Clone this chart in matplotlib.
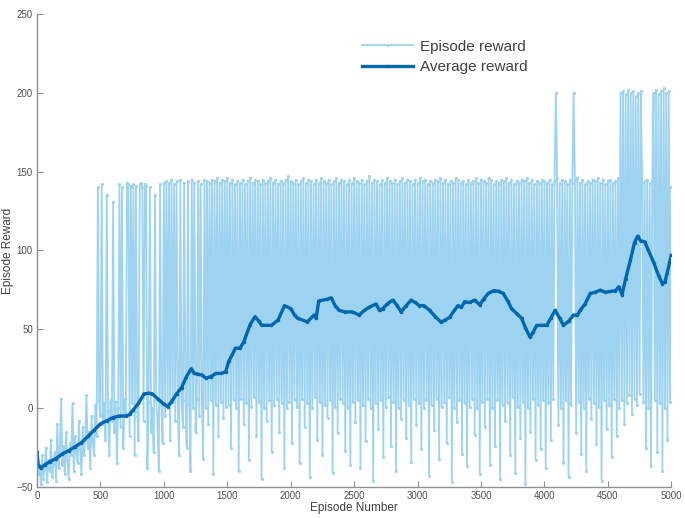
import numpy as np
import matplotlib.pyplot as plt

plt.rcParams['font.family'] = ['Liberation Sans', 'DejaVu Sans']

# episode reward, one reading every 10 episodes (0..5000), one row per 500 episodes
ep_step = 10
reward_0 = [-28, -42, -36, -48, -30, -45, -38, -25, -47, -33,
            -40, -20, -44, -35, -28, -46, -10, -38, -30, 6,
            -36, -24, -42, -15, -33, -45, -22, -30, 3, -40,
            -18, -28, -35, -8, -26, -42, -12, -30, -20, 8,
            -25, -15, -38, -5, -22, -30, 2, -18, 140, 5]
reward_1 = [-5, 142, -10, 3, -20, 135, -2, -30, 5, -8,
            131, -15, 4, -35, 0, 142, -12, 140, -25, 6,
            -5, 143, 142, -18, 141, 3, 142, -30, 141, -2,
            -20, 142, 143, 140, -8, 142, 141, -38, 4, 140,
            -15, 0, -28, 135, 5, -10, -40, 142, 2, -22]
reward_2 = [143, -5, 144, 2, 143, -20, 145, 4, 142, -8,
            144, 0, -30, 145, 3, -12, 143, 5, -25, 144,
            2, -40, 145, 0, 143, -15, 6, 144, -5, 142,
            3, -32, 145, 0, 144, -10, 143, 5, 145, -42,
            144, 2, 146, -18, 143, 4, 145, -6, 144, 1]
reward_3 = [146, 2, 143, -25, 145, 5, 142, 0, 144, -40,
            143, 6, 145, -10, 142, 3, 144, -33, 146, 1,
            143, 7, 145, -18, 144, 4, 142, -45, 145, 0,
            143, -8, 144, 5, 146, -28, 143, 2, 145, 6,
            142, -15, 144, 3, 143, -38, 145, 0, 147, 4]
reward_4 = [144, -22, 143, 5, 145, 1, 142, -35, 144, 6,
            146, -12, 143, 3, 145, -44, 144, 0, 142, 7,
            145, -20, 143, 4, 146, -30, 144, 2, 143, -6,
            145, 5, 142, -41, 144, 1, 146, -16, 143, 6,
            145, 3, 144, -27, 142, 0, 145, -36, 143, 4]
reward_5 = [146, -9, 144, 5, 143, -38, 145, 2, 142, -21,
            144, 6, 147, 0, 143, -46, 145, 3, 144, -13,
            142, 5, 145, -31, 143, 1, 146, 7, 144, -24,
            143, 4, 145, -40, 142, 0, 144, -7, 146, 5,
            143, -19, 145, 2, 144, -34, 142, 6, 145, -11]
reward_6 = [143, 3, 146, -26, 144, 0, 145, 5, 142, -43,
            144, 2, 143, -14, 145, 6, 144, -32, 146, 1,
            143, 4, 145, -22, 142, 7, 144, -47, 143, 0,
            146, -9, 145, 5, 143, -29, 144, 3, 142, -37,
            145, 1, 143, 6, 144, -17, 146, 0, 143, -42]
reward_7 = [145, 4, 144, -12, 143, 6, 146, -36, 145, 0,
            142, -24, 144, 5, 143, -45, 145, 2, 144, -8,
            146, 3, 143, -30, 145, 7, 142, -41, 144, 1,
            143, -19, 145, 4, 144, -48, 146, 0, 143, -15,
            145, 6, 142, -33, 144, 2, 143, -26, 145, 5]
reward_8 = [144, -38, 143, 3, 145, -20, 142, 6, 144, 200,
            146, -11, 143, 0, 145, -35, 144, 5, 142, -44,
            145, 2, 143, 200, 144, -16, 146, 4, 143, -29,
            145, 0, 142, -40, 144, 6, 143, -7, 145, 3,
            144, -23, 146, 1, 143, -46, 145, 5, 142, -13]
reward_9 = [144, 2, 145, -31, 143, 6, 144, -18, 146, 0,
            200, 5, 201, -10, 199, 3, 202, 8, 200, -4,
            201, 6, 198, 2, 200, 9, 201, 143, 4, 144,
            -25, 145, 0, 143, -37, 144, 200, 5, 202, -28,
            199, 3, 201, -40, 203, 0, 200, -20, 201, 4]
reward_last = [140]

# average reward
avg_ep = [0, 10, 30, 60, 100, 150, 200, 250, 300, 350, 400, 450, 500, 550, 600, 650, 700, 730, 760, 800,
          843, 880, 910, 950, 1000, 1030, 1060, 1100, 1140, 1178, 1216, 1240, 1270, 1300, 1332, 1370, 1410, 1450, 1487, 1513,
          1540, 1564, 1600, 1630, 1680, 1719, 1750, 1770, 1848, 1900, 1951, 2002, 2030, 2054, 2131, 2183, 2200, 2221, 2286, 2320,
          2350, 2381, 2430, 2487, 2540, 2580, 2619, 2672, 2700, 2724, 2760, 2804, 2840, 2870, 2910, 2949, 2980, 3015, 3050, 3094,
          3140, 3186, 3220, 3252, 3290, 3318, 3345, 3371, 3410, 3450, 3490, 3520, 3556, 3600, 3640, 3675, 3710, 3741, 3780, 3820,
          3850, 3886, 3910, 3939, 3980, 4018, 4050, 4084, 4120, 4150, 4190, 4229, 4260, 4282, 4320, 4361, 4400, 4440, 4480, 4520,
          4560, 4586, 4612, 4640, 4678, 4710, 4734, 4760, 4790, 4820, 4863, 4900, 4929, 4950, 4968, 5000]
avg_val = [-28, -36, -38, -36, -34, -32, -29, -27, -24.5, -22, -18, -14, -10, -8, -6, -5, -5, -4, -1, 3,
           9, 9.5, 9, 6, 2.5, 1, 4, 9, 13, 20, 25, 22, 21.5, 21, 19, 20, 22, 22, 23, 30,
           34, 38, 38, 42, 53, 58, 55, 52.5, 52.5, 55.8, 65, 63, 59, 57, 54.7, 59, 57, 68, 69, 70,
           65, 62, 61, 61, 59, 62, 64, 66, 62, 63, 66, 68.5, 65, 61, 65, 68.5, 67, 65, 65, 62,
           58, 54.5, 56, 57.5, 62, 65, 64, 67.5, 67, 68.5, 65.5, 69, 72.7, 74.5, 74, 72.7, 68, 63, 60, 57,
           51, 45, 48, 52.5, 52.5, 52.5, 57, 62, 57, 52.6, 55, 59, 59, 62, 66, 72.7, 73.5, 74.8, 73.5, 74,
           74.5, 77, 72, 82, 94, 105, 109, 106, 105.5, 100, 92, 84, 79, 80, 86, 97]

reward = (reward_0 + reward_1 + reward_2 + reward_3 + reward_4 +
          reward_5 + reward_6 + reward_7 + reward_8 + reward_9 + reward_last)
reward_ep = np.arange(len(reward)) * ep_step

light = '#9dd3f0'
dark = '#0067b1'

fig = plt.figure(figsize=(6.85, 5.18), dpi=100)
ax = fig.add_axes([0.054, 0.060, 0.926, 0.913])

ax.plot(reward_ep, reward, color=light, lw=1.3, marker='.', ms=2.5, label='Episode reward')
ax.plot(avg_ep, avg_val, color=dark, lw=2.4, marker='.', ms=3, label='Average reward')

ax.set_xlim(0, 5000)
ax.set_ylim(-50, 250)
ax.set_xticks(np.arange(0, 5001, 500))
ax.set_yticks(np.arange(-50, 251, 50))

for s in ['top', 'right']:
    ax.spines[s].set_visible(False)
for s in ['left', 'bottom']:
    ax.spines[s].set_color('#909090')
    ax.spines[s].set_linewidth(1.0)
ax.tick_params(direction='in', length=4, color='#909090', labelsize=7, labelcolor='#505050', pad=3)

ax.set_xlabel('Episode Number', fontsize=8.5, color='#404040', labelpad=1)
ax.set_ylabel('Episode Reward', fontsize=8.5, color='#404040', labelpad=2)

leg = ax.legend(loc='upper left', bbox_to_anchor=(0.49, 0.975), frameon=False,
                fontsize=11, handlelength=3.4, labelspacing=0.45, handletextpad=0.4)
for t in leg.get_texts():
    t.set_color('#404040')

fig.savefig('out.png', dpi=100)
